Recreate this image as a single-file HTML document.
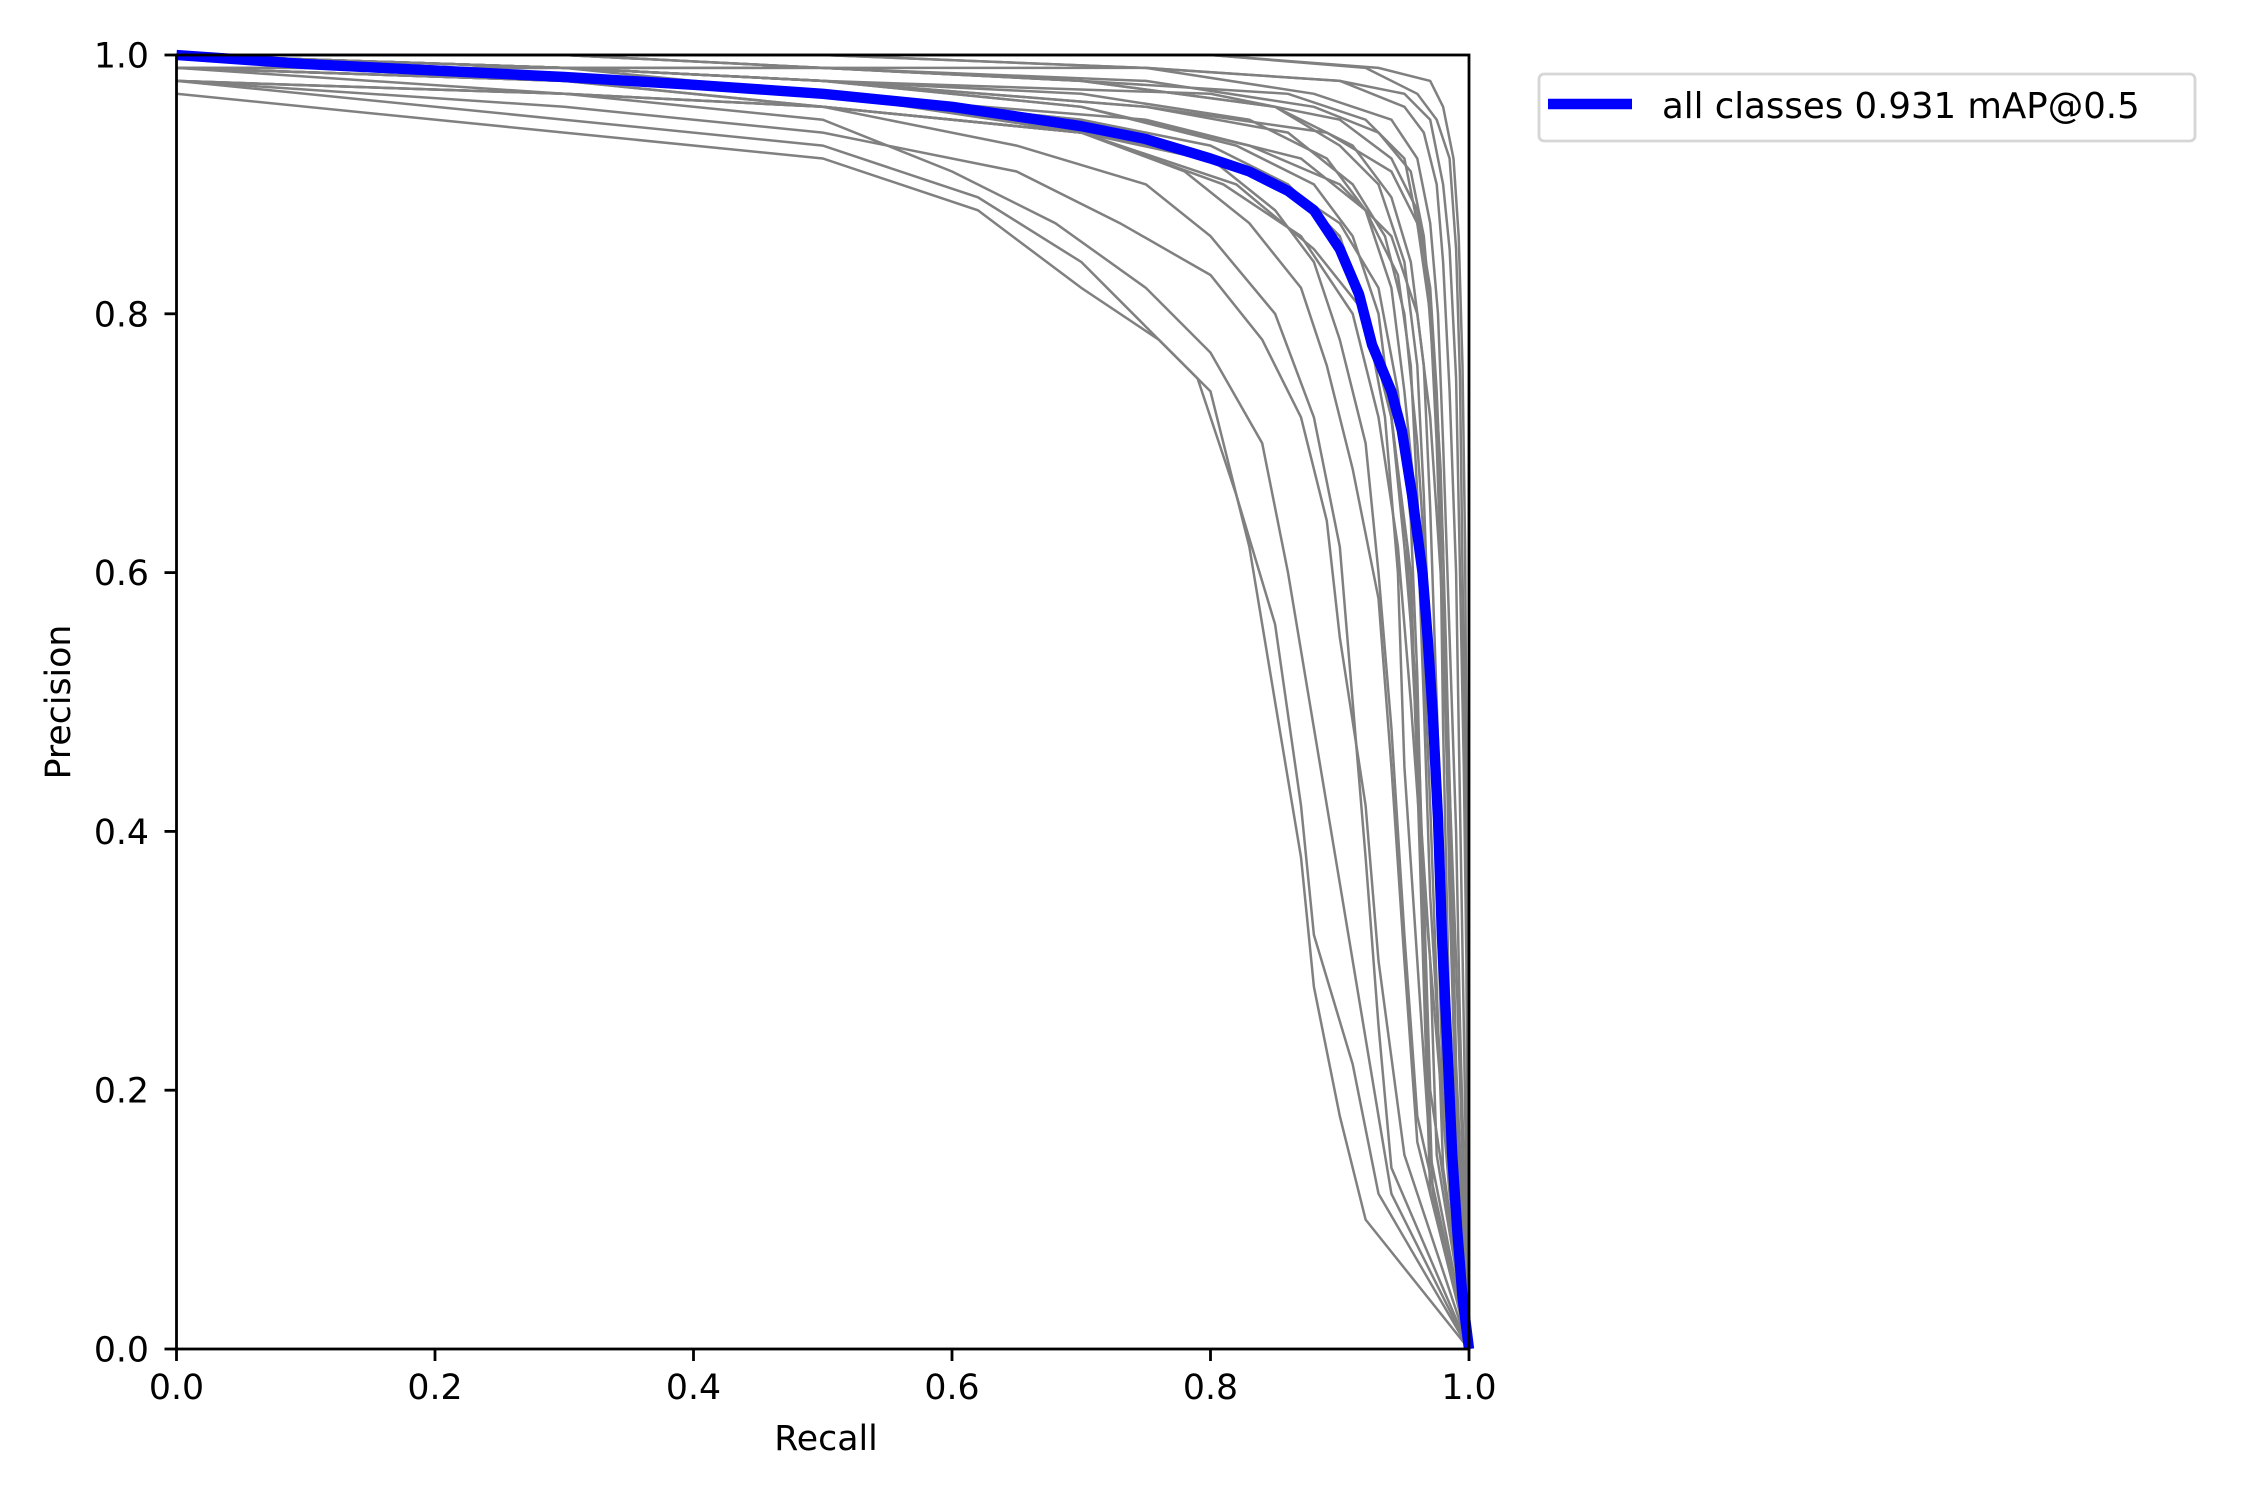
<!DOCTYPE html>
<html><head><meta charset="utf-8"><style>
html,body{margin:0;padding:0;background:#fff;}
svg{display:block;font-family:"DejaVu Sans","Liberation Sans",sans-serif;}
</style></head><body>
<svg id="chart" width="2250" height="1500" viewBox="0 0 2250 1500" xmlns="http://www.w3.org/2000/svg">
<rect width="2250" height="1500" fill="#fff"/>
<g id="grays"></g>
<g id="blue"></g>
<rect x="176.5" y="55" width="1292.5" height="1294" fill="none" stroke="#000" stroke-width="2.8"/>
<g id="ticks" font-size="34.7" fill="#000"></g>
<text x="826" y="1450" font-size="34.7" text-anchor="middle">Recall</text>
<text x="0" y="0" font-size="34.7" text-anchor="middle" transform="translate(70,702) rotate(-90)">Precision</text>
<g>
<rect x="1539" y="74" width="656" height="67" rx="5" fill="#fff" stroke="#d6d6d6" stroke-width="2.8"/>
<line x1="1548" y1="104" x2="1632" y2="104" stroke="#0000ff" stroke-width="10.4"/>
<text x="1662" y="118" font-size="35.5">all classes 0.931 mAP@0.5</text>
</g>
</svg>
<script>
const xTicks = [0, 0.2, 0.4, 0.6, 0.8, 1.0];
const yTicks = [0, 0.2, 0.4, 0.6, 0.8, 1.0];
const tickLabels = ["0.0","0.2","0.4","0.6","0.8","1.0"];
const allRecall = [0,0.1,0.2,0.3,0.4,0.5,0.6,0.7,0.75,0.8,0.83,0.86,0.88,0.9,0.915,0.925,0.94,0.948,0.956,0.964,0.968,0.972,0.976,0.979,0.983,0.987,0.991,0.995,1.0];
const allPrecision = [1.0,0.993,0.988,0.983,0.977,0.97,0.96,0.945,0.935,0.92,0.91,0.895,0.88,0.85,0.815,0.776,0.74,0.71,0.66,0.6,0.55,0.49,0.41,0.32,0.24,0.15,0.09,0.04,0.0];
const classRecall = [
 [0,0.3,0.5,0.62,0.7,0.76,0.8,0.83,0.85,0.87,0.88,0.9,0.92,1.0],
 [0,0.3,0.5,0.62,0.7,0.75,0.79,0.82,0.85,0.87,0.88,0.91,0.93,1.0],
 [0,0.3,0.5,0.6,0.68,0.75,0.8,0.84,0.86,0.88,0.9,0.92,0.94,1.0],
 [0,0.3,0.5,0.65,0.73,0.8,0.84,0.87,0.89,0.9,0.92,0.93,0.95,1.0],
 [0,0.3,0.5,0.65,0.75,0.8,0.85,0.88,0.9,0.91,0.92,0.93,0.94,1.0],
 [0,0.3,0.5,0.7,0.78,0.83,0.87,0.89,0.91,0.93,0.94,0.95,0.96,1.0],
 [0,0.3,0.5,0.7,0.8,0.85,0.88,0.9,0.92,0.93,0.94,0.95,0.96,1.0],
 [0,0.3,0.5,0.7,0.8,0.86,0.9,0.92,0.935,0.945,0.95,0.96,0.97,1.0],
 [0,0.3,0.5,0.7,0.82,0.88,0.91,0.93,0.94,0.95,0.96,0.965,0.97,1.0],
 [0,0.3,0.5,0.7,0.8,0.87,0.9,0.92,0.94,0.955,0.96,0.97,0.975,1.0],
 [0,0.3,0.5,0.7,0.83,0.89,0.92,0.94,0.95,0.96,0.965,0.97,0.98,1.0],
 [0,0.3,0.5,0.7,0.85,0.9,0.93,0.95,0.96,0.965,0.97,0.975,0.98,1.0],
 [0,0.3,0.5,0.7,0.85,0.91,0.94,0.955,0.965,0.97,0.975,0.98,0.985,1.0],
 [0,0.3,0.5,0.7,0.86,0.92,0.95,0.96,0.97,0.975,0.98,0.985,0.99,1.0],
 [0,0.3,0.5,0.75,0.88,0.93,0.955,0.965,0.972,0.978,0.982,0.986,0.99,1.0],
 [0,0.3,0.5,0.75,0.88,0.94,0.96,0.97,0.976,0.98,0.985,0.99,0.993,1.0],
 [0,0.3,0.5,0.75,0.9,0.95,0.965,0.975,0.98,0.985,0.99,0.993,0.996,1.0],
 [0,0.3,0.5,0.75,0.9,0.95,0.97,0.98,0.985,0.99,0.993,0.996,0.998,1.0],
 [0,0.3,0.5,0.8,0.92,0.96,0.975,0.985,0.99,0.993,0.995,0.997,0.999,1.0],
 [0,0.3,0.5,0.8,0.9,0.94,0.96,0.97,0.975,0.98,0.982,0.985,0.99,1.0],
 [0,0.3,0.5,0.75,0.87,0.92,0.945,0.955,0.96,0.965,0.97,0.975,0.98,1.0],
 [0,0.3,0.5,0.7,0.84,0.9,0.93,0.945,0.955,0.96,0.963,0.967,0.972,1.0],
 [0,0.3,0.5,0.7,0.82,0.88,0.92,0.94,0.952,0.958,0.962,0.966,0.97,1.0],
 [0,0.3,0.5,0.75,0.89,0.94,0.96,0.968,0.974,0.978,0.98,0.983,0.986,1.0],
 [0,0.3,0.5,0.8,0.93,0.97,0.98,0.988,0.992,0.995,0.997,0.998,0.999,1.0],
 [0,0.3,0.5,0.75,0.86,0.91,0.935,0.95,0.96,0.968,0.975,0.98,0.99,1.0],
 [0,0.3,0.5,0.7,0.81,0.87,0.91,0.93,0.945,0.955,0.965,0.975,0.985,1.0],
 [0,0.3,0.5,0.7,0.83,0.9,0.94,0.96,0.97,0.978,0.984,0.99,0.995,1.0]
];
const classPrecision = [
 [0.97,0.94,0.92,0.88,0.82,0.78,0.74,0.62,0.5,0.38,0.28,0.18,0.1,0.0],
 [0.98,0.95,0.93,0.89,0.84,0.79,0.75,0.66,0.56,0.42,0.32,0.22,0.12,0.0],
 [0.99,0.97,0.95,0.91,0.87,0.82,0.77,0.7,0.6,0.48,0.36,0.24,0.12,0.0],
 [0.98,0.96,0.94,0.91,0.87,0.83,0.78,0.72,0.64,0.55,0.42,0.3,0.15,0.0],
 [0.99,0.98,0.96,0.93,0.9,0.86,0.8,0.72,0.62,0.5,0.38,0.25,0.14,0.0],
 [0.99,0.98,0.97,0.94,0.91,0.87,0.82,0.76,0.68,0.58,0.45,0.3,0.16,0.0],
 [1.0,0.99,0.97,0.95,0.92,0.88,0.84,0.78,0.7,0.6,0.48,0.32,0.18,0.0],
 [0.99,0.98,0.97,0.95,0.93,0.9,0.86,0.8,0.72,0.6,0.45,0.3,0.15,0.0],
 [1.0,0.99,0.98,0.96,0.93,0.9,0.86,0.8,0.72,0.62,0.5,0.35,0.2,0.0],
 [0.98,0.97,0.96,0.94,0.92,0.89,0.85,0.8,0.72,0.6,0.45,0.3,0.15,0.0],
 [1.0,0.99,0.98,0.97,0.95,0.92,0.88,0.82,0.74,0.64,0.5,0.35,0.18,0.0],
 [1.0,0.99,0.99,0.98,0.96,0.93,0.9,0.84,0.76,0.66,0.52,0.36,0.2,0.0],
 [1.0,1.0,0.99,0.98,0.96,0.93,0.89,0.84,0.76,0.65,0.5,0.35,0.18,0.0],
 [1.0,1.0,0.99,0.98,0.97,0.95,0.92,0.87,0.8,0.7,0.55,0.38,0.2,0.0],
 [1.0,0.99,0.99,0.98,0.96,0.94,0.91,0.86,0.78,0.68,0.55,0.4,0.22,0.0],
 [1.0,1.0,0.99,0.99,0.97,0.95,0.92,0.87,0.8,0.7,0.55,0.4,0.25,0.0],
 [1.0,1.0,1.0,0.99,0.98,0.96,0.94,0.9,0.84,0.74,0.6,0.42,0.25,0.0],
 [1.0,1.0,1.0,0.99,0.98,0.97,0.95,0.9,0.85,0.75,0.6,0.45,0.3,0.0],
 [1.0,1.0,1.0,1.0,0.99,0.97,0.95,0.92,0.85,0.75,0.6,0.45,0.3,0.0],
 [0.99,0.99,0.98,0.97,0.95,0.92,0.88,0.82,0.74,0.62,0.5,0.35,0.18,0.0],
 [0.99,0.98,0.97,0.95,0.92,0.88,0.83,0.76,0.66,0.54,0.42,0.28,0.14,0.0],
 [0.98,0.97,0.96,0.94,0.91,0.87,0.82,0.74,0.64,0.52,0.4,0.26,0.12,0.0],
 [0.99,0.98,0.96,0.94,0.9,0.85,0.8,0.72,0.62,0.5,0.38,0.25,0.12,0.0],
 [1.0,0.99,0.98,0.96,0.94,0.91,0.87,0.82,0.74,0.62,0.48,0.34,0.2,0.0],
 [1.0,1.0,1.0,1.0,0.99,0.98,0.96,0.92,0.86,0.76,0.62,0.46,0.3,0.0],
 [0.99,0.99,0.98,0.96,0.94,0.9,0.86,0.8,0.7,0.58,0.44,0.3,0.14,0.0],
 [0.98,0.97,0.96,0.94,0.9,0.86,0.8,0.72,0.62,0.5,0.36,0.24,0.12,0.0],
 [1.0,0.99,0.98,0.96,0.93,0.9,0.86,0.8,0.72,0.6,0.46,0.3,0.15,0.0]
];
const X0=176.5, X1=1469, Y0=1349, Y1=55;
function sx(v){return X0+(X1-X0)*v;}
function sy(v){return Y0-(Y0-Y1)*v;}
const NS="http://www.w3.org/2000/svg";
function pathFrom(rs,ps){
  let d="";
  for(let i=0;i<rs.length;i++){
    d+=(i?"L":"M")+sx(rs[i]).toFixed(1)+","+sy(ps[i]).toFixed(1);
  }
  return d;
}
const grays=document.getElementById("grays");
classRecall.forEach((rs,k)=>{
  const p=document.createElementNS(NS,"path");
  
  
  p.setAttribute("d",pathFrom(rs,classPrecision[k]));
  p.setAttribute("fill","none");p.setAttribute("stroke","#808080");p.setAttribute("stroke-width","2.5");
  grays.appendChild(p);
});
const blue=document.getElementById("blue");
const bp=document.createElementNS(NS,"path");


bp.setAttribute("d",pathFrom(allRecall,allPrecision));
bp.setAttribute("fill","none");bp.setAttribute("stroke","#0000ff");bp.setAttribute("stroke-width","10.4");bp.setAttribute("stroke-linejoin","round");
blue.appendChild(bp);
const ticks=document.getElementById("ticks");
xTicks.forEach((v,i)=>{
  const l=document.createElementNS(NS,"line");
  
  
  l.setAttribute("x1",sx(v));l.setAttribute("x2",sx(v));l.setAttribute("y1",Y0);l.setAttribute("y2",Y0+12);
  l.setAttribute("stroke","#000");l.setAttribute("stroke-width","2.8");ticks.appendChild(l);
  const t=document.createElementNS(NS,"text");
  
  
  t.setAttribute("x",sx(v));t.setAttribute("y",1399);t.setAttribute("text-anchor","middle");
  t.textContent=tickLabels[i];ticks.appendChild(t);
});
yTicks.forEach((v,i)=>{
  const l=document.createElementNS(NS,"line");
  
  
  l.setAttribute("x1",X0-12);l.setAttribute("x2",X0);l.setAttribute("y1",sy(v));l.setAttribute("y2",sy(v));
  l.setAttribute("stroke","#000");l.setAttribute("stroke-width","2.8");ticks.appendChild(l);
  const t=document.createElementNS(NS,"text");
  
  
  t.setAttribute("x",149);t.setAttribute("y",sy(v)+12.5);t.setAttribute("text-anchor","end");
  t.textContent=tickLabels[i];ticks.appendChild(t);
});
</script>
</body></html>
